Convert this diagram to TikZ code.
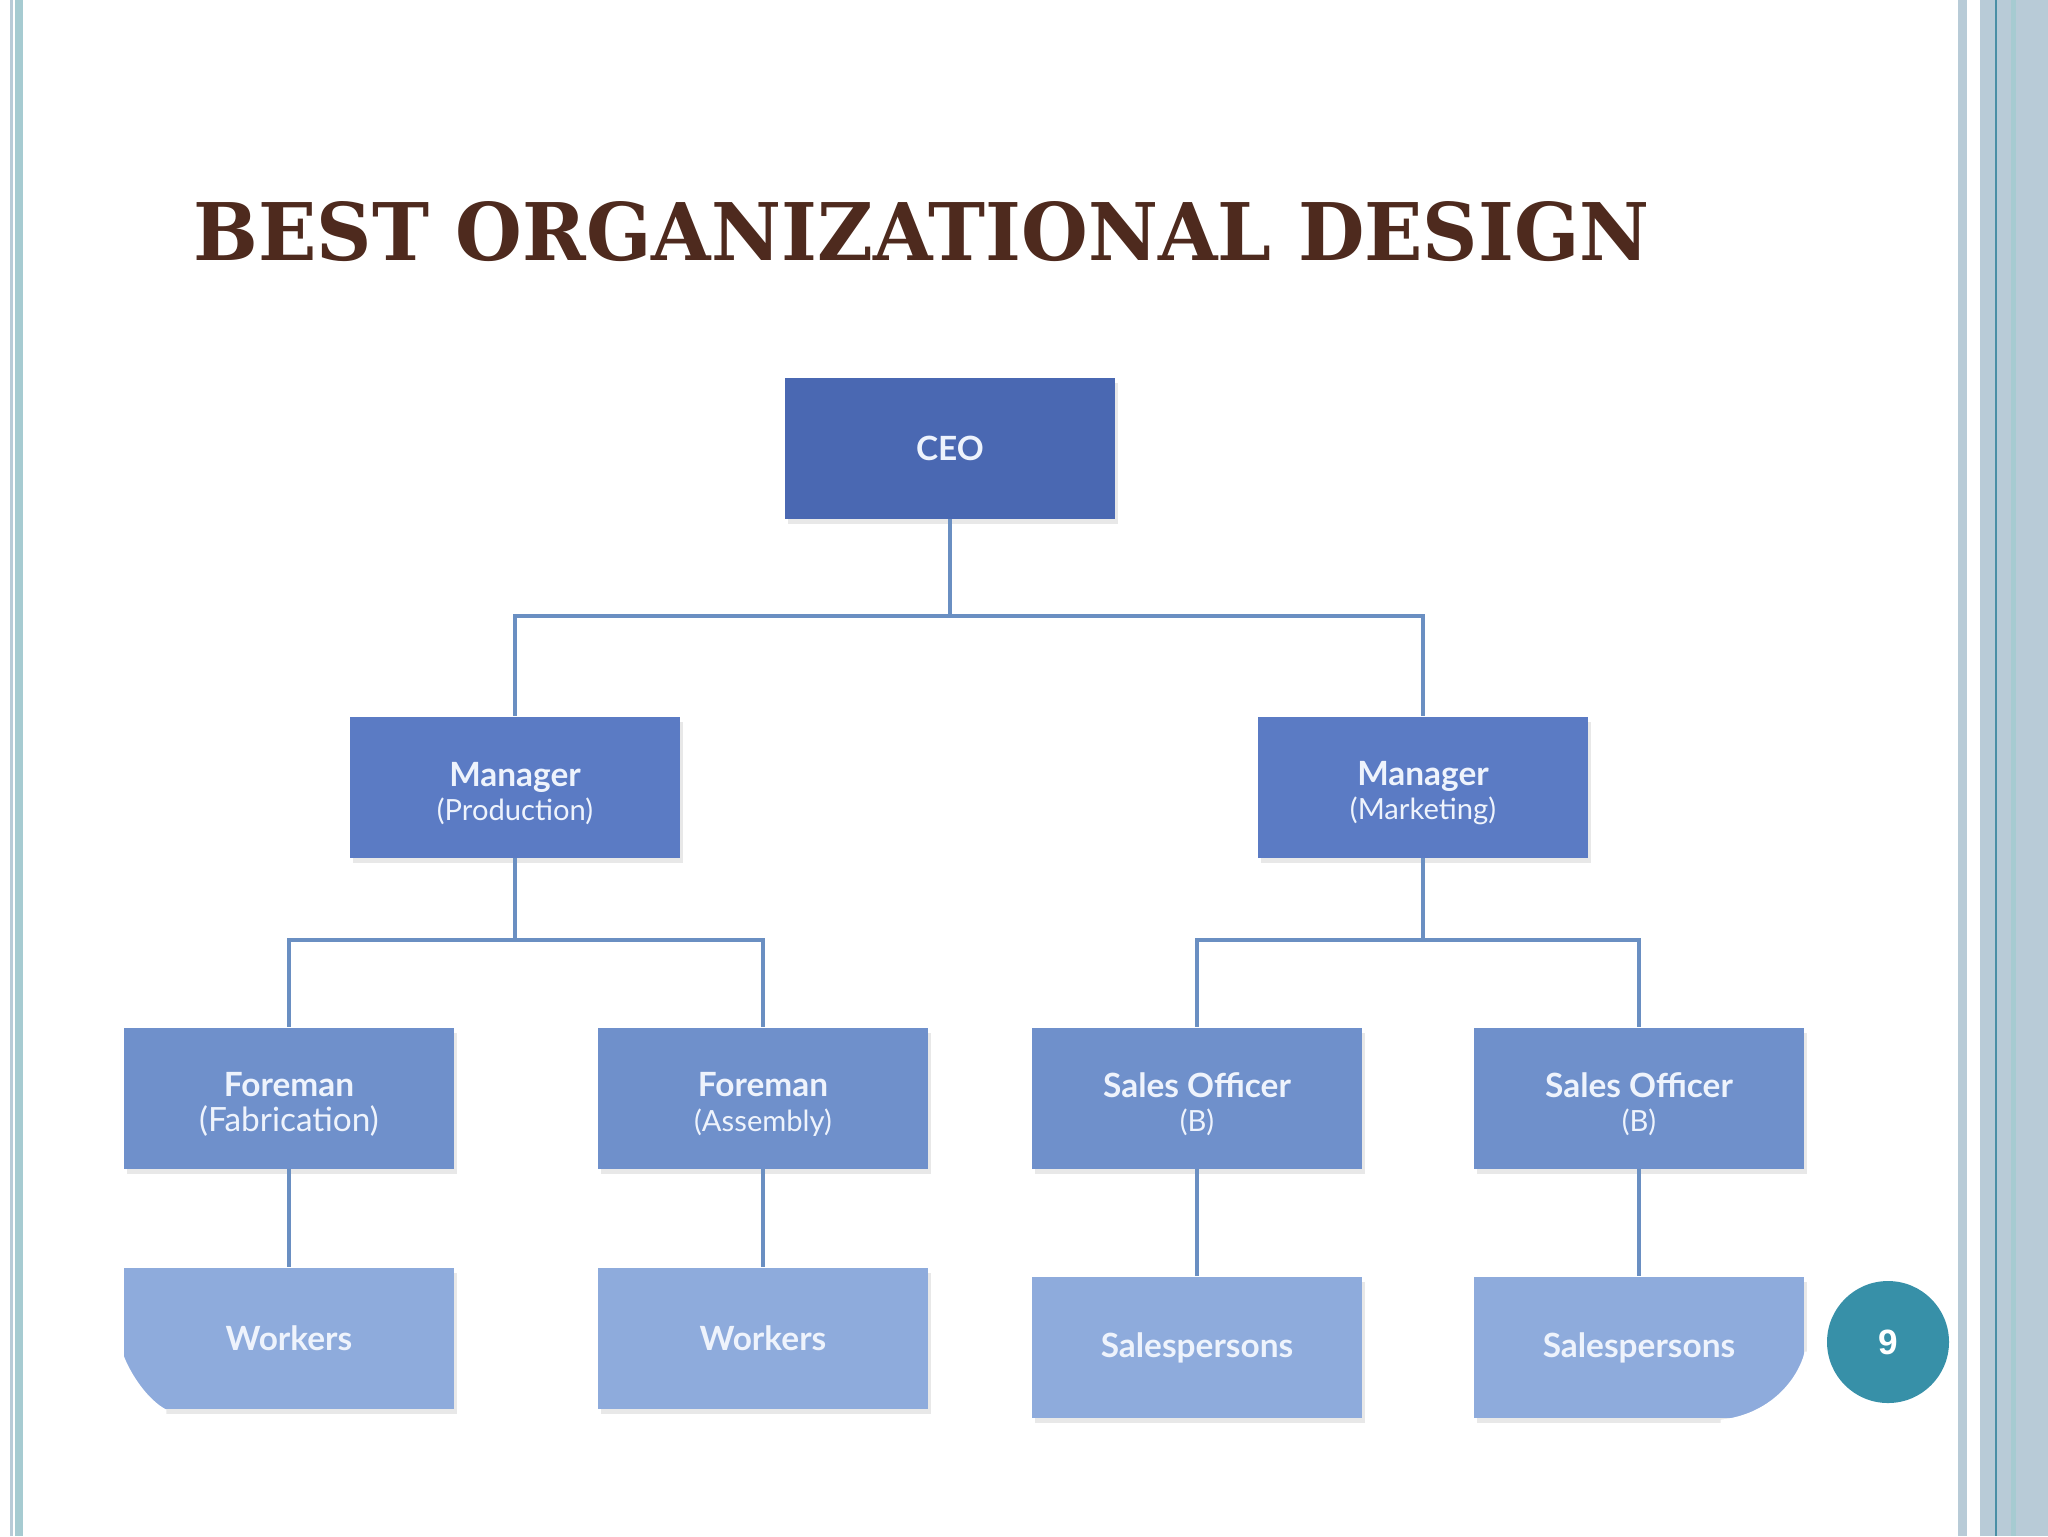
\documentclass[tikz,border=0pt]{standalone}
\usepackage{graphicx}
\usepackage{fontspec}
\setmainfont{Lato}
\newfontfamily\titlefont{DejaVu Serif}
\newfontfamily\numfont{Liberation Sans}
\usetikzlibrary{positioning}
\usetikzlibrary{shadows}

\definecolor{ceoblue}{HTML}{4A68B2}
\definecolor{mgrblue}{HTML}{5B7BC4}
\definecolor{fmblue}{HTML}{6F90CB}
\definecolor{staffblue}{HTML}{8EABDC}
\definecolor{linkblue}{HTML}{6A8FC2}
\definecolor{labelwhite}{HTML}{EEF3FC}
\definecolor{titlebrown}{HTML}{4E2A1E}
\definecolor{pageteal}{HTML}{3790A8}
\definecolor{rimblue}{HTML}{B8CBD7}
\definecolor{rimteal}{HTML}{A6CBD1}
\definecolor{rimdark}{HTML}{4A8FA5}

\tikzstyle{box} = [rectangle, minimum width=33mm, minimum height=14.1mm, inner sep=0pt, text=labelwhite, align=center, font=\fontsize{9.5}{9.7}\selectfont, drop shadow={shadow xshift=0.25mm, shadow yshift=-0.5mm, opacity=0.15, fill=black!60}]
\tikzstyle{ceobox} = [box, fill=ceoblue]
\tikzstyle{mgr} = [box, fill=mgrblue]
\tikzstyle{fm} = [box, fill=fmblue]
\tikzstyle{staff} = [box, fill=staffblue]
\tikzstyle{link} = [draw=linkblue, line width=0.9pt]
\tikzstyle{joint} = [coordinate]

\newcommand{\rolename}[1]{{\fontsize{9.5}{9.7}\selectfont\bfseries #1}}
\newcommand{\rolenote}[2][8.3]{{\fontsize{#1}{9.7}\selectfont #2}}
\newcommand{\rolepair}[3][8.3]{\rule{0pt}{10.5pt}\rolename{#2}\\\rolenote[#1]{#3}}

\begin{document}
\begin{tikzpicture}[x=0.1mm,y=-0.1mm]
    \useasboundingbox (0,0) rectangle (2048,1536);
    % page and its rims
    \fill[white] (0,0) rectangle (2048,1536);
    \fill[rimblue] (10,0) rectangle (13,1536);
    \fill[rimteal] (15,0) rectangle (23,1536);
    \fill[rimblue] (1958,0) rectangle (1967,1536);
    \fill[rimblue] (1980,0) rectangle (2048,1536);
    \fill[rimdark] (1995,0) rectangle (1997,1536);
    \fill[rimteal] (2011,0) rectangle (2016,1536);

    \node [anchor=base west, inner sep=0pt, text=titlebrown] (title) at (193,260)
        {\resizebox{145.6mm}{5.9mm}{\titlefont\bfseries BEST ORGANIZATIONAL DESIGN}};

    \node [ceobox] (ceo) at (950,448) {\rolename{CEO}};
    \node [mgr] (mprod) at (515,787) {\rolepair{Manager}{(Production)}};
    \node [mgr] (mmkt) at (1423,787) {\rolepair{Manager}{(Marketing)}};

    \node [fm] (ffab) at (289,1098) {\rolepair[9.5]{Foreman}{(Fabrication)}};
    \node [fm] (fasm) at (763,1098) {\rolepair{Foreman}{(Assembly)}};
    \node [fm] (sob1) at (1197,1098) {\rolepair{Sales Officer}{(B)}};
    \node [fm] (sob2) at (1639,1098) {\rolepair{Sales Officer}{(B)}};

    \node [staff, below=9.8mm of ffab] (wfab) {\rolename{Workers}};
    \node [staff, below=9.8mm of fasm] (wasm) {\rolename{Workers}};
    \node [staff, below=10.7mm of sob1] (sp1) {\rolename{Salespersons}};
    \node [staff, below=10.7mm of sob2] (sp2) {\rolename{Salespersons}};

    % curled corners
    \fill[white] ([yshift=5.5mm]wfab.south west) .. controls ([xshift=0.7mm,yshift=3.6mm]wfab.south west) and ([xshift=2.4mm,yshift=1.0mm]wfab.south west) .. ([xshift=4.3mm]wfab.south west)
        -- ([xshift=4.3mm,yshift=-1.5mm]wfab.south west) -- ([xshift=-1.5mm,yshift=-1.5mm]wfab.south west) -- ([xshift=-1.5mm,yshift=5.5mm]wfab.south west) -- cycle;
    \fill[white] ([yshift=6.7mm]sp2.south east) .. controls ([xshift=-0.7mm,yshift=3.8mm]sp2.south east) and ([xshift=-3.6mm,yshift=0.4mm]sp2.south east) .. ([xshift=-8.4mm,yshift=-0.1mm]sp2.south east)
        -- ([xshift=-8.4mm,yshift=-1.5mm]sp2.south east) -- ([xshift=1.5mm,yshift=-1.5mm]sp2.south east) -- ([xshift=1.5mm,yshift=6.7mm]sp2.south east) -- cycle;

    \node [joint] (jtop) at (950,616) {};
    \node [joint] (jprod) at (515,940) {};
    \node [joint] (jmkt) at (1423,940) {};

    \draw [link] (ceo) -- (jtop) -| (mprod);
    \draw [link] (jtop) -| (mmkt);
    \draw [link] (mprod) -- (jprod) -| (ffab);
    \draw [link] (jprod) -| (fasm);
    \draw [link] (mmkt) -- (jmkt) -| (sob1);
    \draw [link] (jmkt) -| (sob2);
    \draw [link] (ffab) -- (wfab);
    \draw [link] (fasm) -- (wasm);
    \draw [link] (sob1) -- (sp1);
    \draw [link] (sob2) -- (sp2);

    \node [circle, fill=pageteal, minimum size=12.2mm, inner sep=0pt, text=white, font=\numfont\bfseries\fontsize{10}{12}\selectfont] (pnum) at (1888,1342) {9};
\end{tikzpicture}
\end{document}
